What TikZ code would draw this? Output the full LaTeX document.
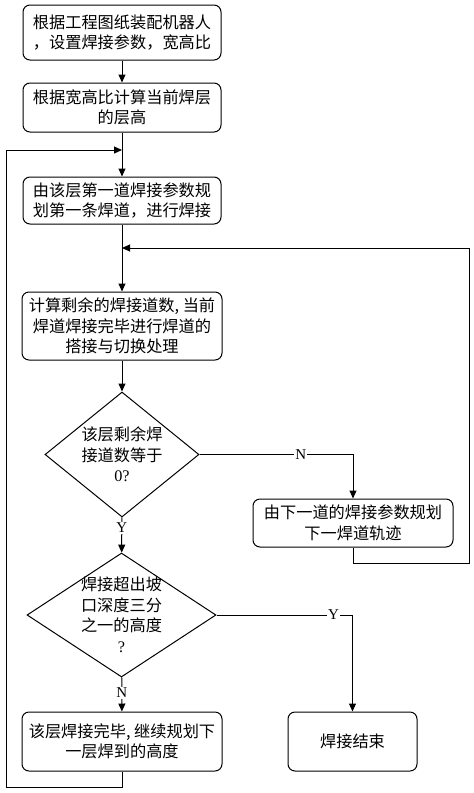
\documentclass[tikz,border=0pt]{standalone}
\usepackage{fontspec}
\setmainfont{Liberation Serif}
\newfontfamily\cjk{Noto Sans CJK SC}
\usetikzlibrary{shapes.geometric,arrows.meta}
\begin{document}
\begin{tikzpicture}[x=1pt,y=-1pt,
  every path/.style={line width=1pt},
  box/.style={draw,rounded corners=7pt,align=center,inner sep=0pt,
    font=\cjk\fontsize{16.2}{20.5}\selectfont},
  dia/.style={draw,diamond,inner sep=0pt,shape aspect=1},
  dtext/.style={align=center,inner sep=0pt,font=\cjk\fontsize{16.2}{20.5}\selectfont},
  arr/.style={-{Triangle[length=8pt,width=7pt]}},
  lab/.style={fill=white,inner sep=1pt,font=\fontsize{15}{15}\selectfont}]
\useasboundingbox (0,0) rectangle (474,793);
\node[box,minimum width=198pt,minimum height=55pt] (b1) at (122,32.5) {根据工程图纸装配机器人\\，设置焊接参数，宽高比};
\node[box,minimum width=198pt,minimum height=49pt] (b2) at (122,107.5) {根据宽高比计算当前焊层\\的层高};
\node[box,minimum width=198pt,minimum height=47pt] (b3) at (122,200.5) {由该层第一道焊接参数规\\划第一条焊道，进行焊接};
\node[box,minimum width=200pt,minimum height=68pt] (b4) at (122,326) {计算剩余的焊接道数, 当前\\焊道焊接完毕进行焊道的\\搭接与切换处理};
\node[dia,minimum width=154pt,minimum height=125pt] (d1) at (122,454.5) {};
\node[dtext] (t1) at (d1.center) {该层剩余焊\\接道数等于\\{\rmfamily 0?}};
\node[box,minimum width=200pt,minimum height=48pt] (b5) at (353,523) {由下一道的焊接参数规划\\下一焊道轨迹};
\node[dia,minimum width=189pt,minimum height=124pt] (d2) at (121.5,615) {};
\node[dtext] (t2) at (d2.center) {焊接超出坡\\口深度三分\\之一的高度\\{\rmfamily ?}};
\node[box,minimum width=200pt,minimum height=59pt] (b6) at (122,741.5) {该层焊接完毕, 继续规划下\\一层焊到的高度};
\node[box,minimum width=129pt,minimum height=59pt] (b7) at (352.5,741.5) {焊接结束};
\coordinate (j1) at (122,248);
\coordinate (j2) at (122,150);
\coordinate (rr) at (469,563);
\coordinate (ll) at (6,787);
\draw[arr] (b1) -- (b2);
\draw[arr] (b2) -- (b3);
\draw[arr] (b3) -- (b4);
\draw[arr] (b4) -- (d1);
\draw[arr] (d1.east) -- node[lab,pos=0.66]{N} (d1.east -| b5) -- (b5);
\draw[arr] (d1) -- node[lab,pos=0.3]{Y} (d2);
\draw[arr] (d2.east) -- node[lab,pos=0.86]{Y} (d2.east -| b7) -- (b7);
\draw[arr] (d2) -- node[lab,pos=0.46]{N} (b6);
\draw[arr] (b5.south) |- (rr) |- (j1);
\draw[arr] (b6.south) |- (ll) |- (j2);
\end{tikzpicture}
\end{document}
